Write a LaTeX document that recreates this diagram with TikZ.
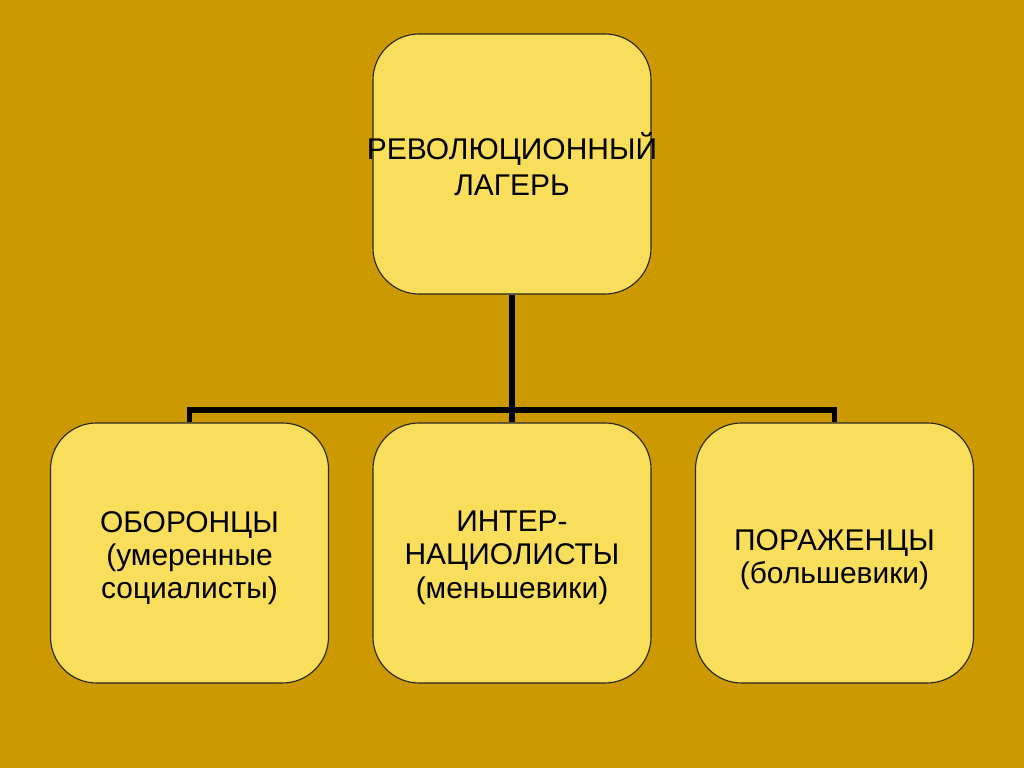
\documentclass[tikz,border=0pt]{standalone}
\usepackage{fontspec}
\setmainfont{Liberation Sans}
\usetikzlibrary{calc,positioning}

\definecolor{bgochre}{HTML}{CC9900}
\definecolor{boxyellow}{HTML}{F9DE5B}

\tikzset{
  campbox/.style = {draw = black!85, line width = 0.8pt, fill = boxyellow,
    rounded corners = 1.15cm, minimum width = 6.95cm, minimum height = 6.5cm,
    align = center, inner sep = 0pt, font = \fontsize{21.3}{23.5}\selectfont},
  wingtext/.style = {align = center, inner sep = 0pt, font = \fontsize{21.3}{23.5}\selectfont},
  tieline/.style = {draw, line width = 3.6pt}
}

\begin{document}
\begin{tikzpicture}
        % background
        \path[fill = bgochre] (0,0) rectangle (25.6,19.2);
        % boxes
        \node[campbox] (camp) at (12.8,15.1) {\makebox[0pt]{РЕВОЛЮЦИОННЫЙ}\\[2pt]ЛАГЕРЬ};
        \node[campbox] (oboron) at (4.7375,5.375) {};
        \node[campbox] (inter) at (12.8,5.375) {};
        \node[campbox] (porazh) at (20.8625,5.375) {};
        % texts of the lower boxes
        \node[wingtext] (oboron-text) at ([yshift=-0.13cm]oboron.center) {ОБОРОНЦЫ\\(умеренные\\социалисты)};
        \node[wingtext] (inter-text) at ([yshift=-0.12cm]inter.center) {ИНТЕР-\\НАЦИОЛИСТЫ\\(меньшевики)};
        \node[wingtext] (porazh-text) at ([yshift=-0.16cm]porazh.center) {ПОРАЖЕНЦЫ\\(большевики)};
        % fork
        \coordinate (fork) at (12.8,8.95);
        \path[tieline] (camp.south) to (fork);
        \path[tieline] (fork) -| (oboron.north);
        \path[tieline] (fork) -| (porazh.north);
        \path[tieline] (fork) to (inter.north);
    \end{tikzpicture}
\end{document}
